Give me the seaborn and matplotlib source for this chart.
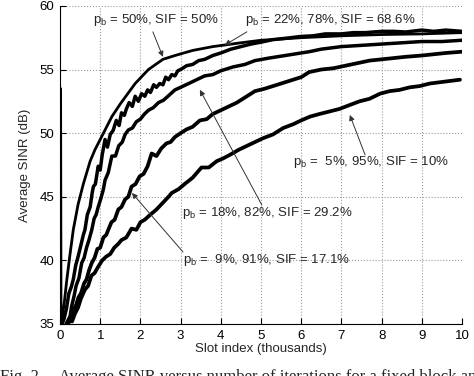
import matplotlib
matplotlib.use("Agg")
import matplotlib.pyplot as plt
import seaborn as sns
import pandas as pd

# ---- data (slot index in thousands, average SINR in dB) ----
A_x = [0.015, 0.025, 0.04, 0.1, 0.17, 0.25, 0.33, 0.45, 0.58, 0.75,
       0.87, 1.0, 1.29, 1.5, 1.87, 2.2, 2.56, 2.86, 3.3, 3.8,
       4.5, 5, 6, 7, 8, 9, 10]
A_y = [53.5, 35.2, 35.3, 36.5, 38.5, 40.5, 42.4, 44.4, 46.0, 47.8,
       48.7, 49.5, 51.3, 52.3, 53.9, 55.0, 55.8, 56.1, 56.5, 56.8,
       57.1, 57.3, 57.5, 57.65, 57.75, 57.8, 57.9]

B_x = [0.05, 0.10, 0.16, 0.22, 0.28, 0.33, 0.39, 0.45, 0.52, 0.58,
       0.62, 0.68, 0.75, 0.80, 0.83, 0.88, 0.95, 1.00, 1.05, 1.12,
       1.18, 1.25, 1.32, 1.40, 1.47, 1.53, 1.60, 1.65, 1.72, 1.80,
       1.87, 1.95, 2.03, 2.11, 2.18, 2.25, 2.33, 2.40, 2.48, 2.56,
       2.63, 2.70, 2.78, 2.86, 2.93, 3.00, 3.15, 3.30, 3.45, 3.60,
       3.80, 4.00, 4.25, 4.50, 4.75, 5.00, 5.30, 5.60, 6.00, 6.30,
       6.60, 7.00, 7.30, 7.60, 8.00, 8.30, 8.60, 9.00, 9.30, 9.60,
       10.0]
B_y = [35.0, 35.4, 36.2, 37.4, 37.9, 38.5, 39.6, 40.3, 41.2, 42.0,
       42.4, 43.6, 44.2, 45.3, 45.8, 46.0, 47.4, 47.1, 48.3, 49.5,
       48.9, 49.9, 50.2, 51.0, 50.6, 51.6, 51.4, 51.9, 52.4, 52.1,
       52.9, 52.5, 53.1, 52.9, 53.4, 53.2, 53.8, 53.6, 53.9, 53.8,
       54.4, 54.2, 54.6, 54.5, 54.9, 55.0, 55.3, 55.4, 55.7, 55.8,
       56.1, 56.3, 56.6, 56.8, 57.0, 57.15, 57.35, 57.45, 57.6, 57.65,
       57.8, 57.8, 57.9, 57.9, 58.0, 58.0, 57.95, 58.1, 58.0, 58.1,
       58.0]

C_x = [0.15, 0.20, 0.25, 0.29, 0.35, 0.40, 0.47, 0.54, 0.60, 0.66,
       0.72, 0.79, 0.85, 0.90, 0.95, 1.02, 1.08, 1.12, 1.20, 1.29,
       1.38, 1.46, 1.55, 1.62, 1.70, 1.80, 1.90, 2.00, 2.10, 2.20,
       2.32, 2.45, 2.58, 2.72, 2.86, 3.00, 3.20, 3.40, 3.60, 3.80,
       4.00, 4.30, 4.60, 4.85, 5.20, 5.60, 6.00, 6.20, 6.50, 7.00,
       7.50, 8.00, 8.50, 9.00, 9.50, 10.0]
C_y = [35.0, 35.3, 35.6, 36.4, 37.2, 38.0, 38.6, 39.8, 40.2, 41.0,
       41.6, 42.4, 43.3, 43.6, 44.2, 44.9, 45.6, 46.3, 46.9, 48.2,
       48.2, 49.0, 49.3, 49.9, 50.25, 50.4, 50.9, 51.1, 51.5, 51.8,
       52.0, 52.4, 52.6, 53.0, 53.4, 53.6, 53.9, 54.2, 54.5, 54.6,
       54.9, 55.2, 55.4, 55.7, 55.9, 56.1, 56.3, 56.4, 56.6, 56.8,
       56.9, 57.0, 57.1, 57.2, 57.2, 57.3]

D_x = [0.20, 0.25, 0.30, 0.35, 0.40, 0.46, 0.52, 0.60, 0.66, 0.72,
       0.79, 0.86, 0.93, 1.00, 1.08, 1.15, 1.20, 1.28, 1.36, 1.45,
       1.53, 1.62, 1.70, 1.78, 1.88, 1.98, 2.08, 2.18, 2.28, 2.40,
       2.52, 2.65, 2.75, 2.86, 3.00, 3.15, 3.30, 3.48, 3.65, 3.80,
       4.00, 4.20, 4.40, 4.60, 4.85, 5.10, 5.40, 5.70, 6.00, 6.20,
       6.50, 6.80, 7.10, 7.40, 7.70, 8.00, 8.30, 8.60, 9.00, 9.30,
       9.60, 10.0]
D_y = [35.0, 35.3, 35.5, 36.2, 36.5, 37.1, 37.4, 38.2, 38.5, 39.2,
       39.8, 40.2, 40.9, 41.0, 41.8, 42.0, 42.4, 43.0, 43.2, 44.0,
       44.2, 44.8, 45.0, 45.8, 46.0, 46.6, 46.8, 47.4, 48.4, 48.2,
       48.8, 49.2, 49.3, 49.7, 50.0, 50.3, 50.5, 51.0, 51.1, 51.5,
       51.8, 52.1, 52.4, 52.8, 53.3, 53.5, 53.8, 54.1, 54.4, 54.8,
       55.0, 55.1, 55.3, 55.5, 55.7, 55.8, 55.9, 56.0, 56.1, 56.2,
       56.3, 56.4]

E_x = [0.30, 0.37, 0.45, 0.52, 0.62, 0.70, 0.78, 0.86, 0.95, 1.05,
       1.15, 1.25, 1.35, 1.45, 1.53, 1.65, 1.78, 1.90, 2.00, 2.11,
       2.25, 2.40, 2.55, 2.70, 2.78, 2.95, 3.10, 3.30, 3.52, 3.70,
       3.90, 4.05, 4.23, 4.45, 4.65, 4.85, 5.05, 5.30, 5.55, 5.80,
       6.00, 6.22, 6.45, 6.70, 6.95, 7.20, 7.45, 7.70, 7.96, 8.20,
       8.45, 8.70, 8.95, 9.20, 9.45, 9.70, 9.95]
E_y = [35.2, 35.8, 36.3, 37.0, 37.7, 38.0, 38.8, 39.0, 39.5, 40.0,
       40.3, 40.5, 41.0, 41.3, 41.6, 41.8, 42.5, 42.4, 43.0, 43.2,
       43.6, 44.0, 44.5, 45.0, 45.3, 45.6, 46.0, 46.5, 47.3, 47.3,
       47.8, 48.0, 48.3, 48.7, 49.0, 49.3, 49.6, 49.9, 50.4, 50.7,
       51.0, 51.3, 51.5, 51.7, 51.9, 52.2, 52.5, 52.7, 53.1, 53.3,
       53.4, 53.6, 53.7, 53.9, 54.0, 54.1, 54.2]

labels = [
    "p$_\\mathrm{b}$ = 50%, SIF = 50%",
    "p$_\\mathrm{b}$ = 22%, 78%, SIF = 68.6%",
    "p$_\\mathrm{b}$ = 18%, 82%, SIF = 29.2%",
    "p$_\\mathrm{b}$ =  9%, 91%, SIF = 17.1%",
    "p$_\\mathrm{b}$ =  5%, 95%, SIF = 10%",
]
x_ticks = [0, 1, 2, 3, 4, 5, 6, 7, 8, 9, 10]
y_ticks = [35, 40, 45, 50, 55, 60]

# ---- style ----
sns.set_style("ticks")
plt.rcParams["font.family"] = ["Liberation Sans", "DejaVu Sans"]
plt.rcParams["mathtext.fontset"] = "custom"
plt.rcParams["mathtext.rm"] = "Liberation Sans"
plt.rcParams["mathtext.it"] = "Liberation Sans:italic"

fig = plt.figure(figsize=(4.74, 3.76), dpi=100)
ax = fig.add_axes([0.1266, 0.1383, 0.848, 0.846])

series = [(A_x, A_y, 2.0), (B_x, B_y, 2.5), (C_x, C_y, 2.5), (D_x, D_y, 2.7), (E_x, E_y, 2.7)]
for xs, ys, lw in series:
    df = pd.DataFrame({"x": xs, "y": ys})
    sns.lineplot(data=df, x="x", y="y", ax=ax, color="black", lw=lw,
                 sort=False, estimator=None, legend=False)

ax.set_xlim(0, 10)
ax.set_ylim(35, 60)
ax.set_xticks(x_ticks)
ax.set_yticks(y_ticks)
ax.grid(True, linestyle=":", color="#9a9a9a", linewidth=0.8)
ax.set_axisbelow(True)
sns.despine(ax=ax, top=True, right=True)
for s in ["left", "bottom"]:
    ax.spines[s].set_linewidth(0.8)
    ax.spines[s].set_color("black")
ax.tick_params(direction="in", length=4, width=0.8, labelsize=9.5, colors="black", pad=4)
ax.set_xlabel("Slot index (thousands)", fontsize=9.5, labelpad=1)
ax.set_ylabel("Average SINR (dB)", fontsize=9.5, labelpad=6)

# ---- annotations ----
text_pos = [(0.82, 58.9), (4.6, 58.9), (3.03, 43.73), (3.06, 40.03), (5.8, 47.7)]
arrow_tail = [(2.31, 57.96), (4.65, 57.96), (5.02, 44.36), (3.06, 40.66), (7.59, 48.29)]
arrow_head = [(2.56, 56.0), (4.10, 56.93), (3.48, 53.4), (1.79, 45.3), (7.21, 51.43)]
for lab, tp, tl, hd in zip(labels, text_pos, arrow_tail, arrow_head):
    ax.text(tp[0], tp[1], lab, fontsize=9.5, ha="left", va="center")
    ax.annotate("", xy=hd, xytext=tl,
                arrowprops=dict(arrowstyle="-|>", color="#333333", lw=0.7,
                                mutation_scale=8, shrinkA=0, shrinkB=0))

fig.text(0.0, 0.018, "Fig. 2.    Average SINR versus number of iterations for a fixed block and",
         family=["Liberation Serif", "DejaVu Serif"], fontsize=12, va="top", ha="left")

fig.savefig("out.png", dpi=100)
